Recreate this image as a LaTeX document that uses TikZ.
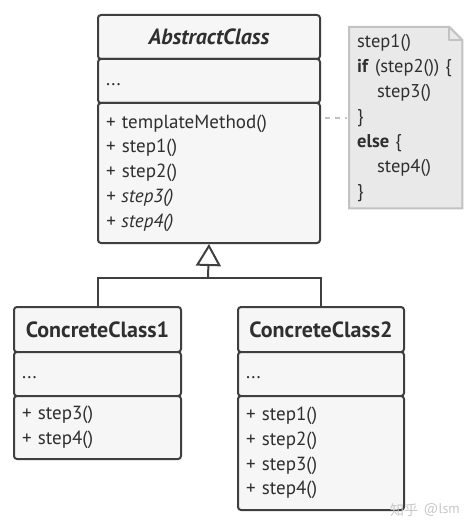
\documentclass[tikz,border=0pt]{standalone}
\usepackage{fontspec}
\setmainfont{PT Sans}
\newfontfamily\cjkfont{Noto Sans CJK SC}
\usepackage{xcolor}
\usepackage{tikz}
\usetikzlibrary{arrows.meta,positioning,calc,backgrounds}
\definecolor{edgegray}{HTML}{3F3F3F}
\definecolor{boxfill}{HTML}{F6F6F6}
\definecolor{textgray}{HTML}{2F2F2F}
\definecolor{notefill}{HTML}{E9E9E9}
\definecolor{noteedge}{HTML}{C2C2C2}
\tikzset{
  headbox/.style={draw=edgegray, fill=boxfill, line width=2pt, rounded corners=3pt,
                  anchor=north west, inner sep=0pt, text=textgray,
                  font=\fontsize{22}{24}\selectfont\bfseries},
  bodybox/.style={draw=edgegray, fill=boxfill, line width=2pt, rounded corners=3pt,
                  anchor=north west, inner xsep=8pt, inner ysep=0pt, align=left,
                  text=textgray, font=\fontsize{19}{24.8}\selectfont},
  umlline/.style={draw=edgegray, line width=2pt},
  notelink/.style={draw=noteedge, line width=2pt, dash pattern=on 5pt off 5pt}
}

\begin{document}
\begin{tikzpicture}[x=1pt, y=-1pt,
      notebox/.style={anchor=north west, inner xsep=8pt, inner ysep=0pt,
                      align=left, text=textgray,
                      font=\fontsize{18.5}{25}\selectfont}
    ]
    \useasboundingbox (0,0) rectangle (474,529);

    % AbstractClass
    \node[headbox, minimum width=222pt, minimum height=44pt] (absh) at (97,14)
      {\textit{AbstractClass}};
    \node[bodybox, minimum width=222pt, text width=206pt, minimum height=44pt] (absa) at (97,58)
      {\strut...};
    \node[bodybox, minimum width=222pt, text width=206pt, minimum height=140pt] (absm) at (97,102)
      {+ templateMethod()\\ + step1()\\ + step2()\\ \textit{+ step3()}\\ \textit{+ step4()}};

    % ConcreteClass1
    \node[headbox, minimum width=167pt, minimum height=45pt] (cc1h) at (13,306)
      {ConcreteClass1};
    \node[bodybox, minimum width=167pt, text width=151pt, minimum height=44pt] (cc1a) at (13,351)
      {\strut...};
    \node[bodybox, minimum width=167pt, text width=151pt, minimum height=63pt] (cc1m) at (13,395)
      {+ step3()\\ + step4()};

    % ConcreteClass2
    \node[headbox, minimum width=166pt, minimum height=45pt] (cc2h) at (237,306)
      {ConcreteClass2};
    \node[bodybox, minimum width=166pt, text width=150pt, minimum height=44pt] (cc2a) at (237,351)
      {\strut...};
    \node[bodybox, minimum width=166pt, text width=150pt, minimum height=114pt] (cc2m) at (237,395)
      {+ step1()\\ + step2()\\ + step3()\\ + step4()};

    % Note on templateMethod
    \node[notebox, minimum width=113pt, text width=97pt, minimum height=181pt] (note) at (349,27)
      {step1()\\ \textbf{if} (step2()) \{\\ \hspace*{20pt}step3()\\ \}\\ \textbf{else} \{\\
       \hspace*{20pt}step4()\\ \}};
    \begin{scope}[on background layer]
      \draw[draw=noteedge, fill=notefill, line width=2pt]
        (note.north west) -- ([xshift=-13pt]note.north east)
        -- ([yshift=-13pt]note.north east) -- (note.south east)
        -- (note.south west) -- cycle;
    \end{scope}
    \draw[draw=noteedge, line width=2pt, line join=round]
      ([xshift=-13pt]note.north east) -- ([xshift=-13pt,yshift=-13pt]note.north east)
      -- ([yshift=-13pt]note.north east);
    \draw[notelink, shorten <=4pt, shorten >=2pt] (note.west -| absm.east) -- (note.west);

    % Inheritance
    \coordinate (split) at (208,278);
    \draw[umlline] (cc1h.north) |- (split) -| (cc2h.north);
    \draw[umlline, -{Triangle[open, length=22pt, width=25pt, line width=2pt, fill=white]}]
      (split) -- (absm.south);

    % watermark
    \node[text=black!22, font=\fontsize{14}{14}\selectfont, anchor=west, inner sep=0pt] (wmark)
      at (390,510) {\cjkfont 知乎};
    \node[text=black!22, font=\fontsize{14}{14}\selectfont, right=5pt of wmark, inner sep=0pt] (wname)
      {@lsm};
  \end{tikzpicture}
\end{document}
